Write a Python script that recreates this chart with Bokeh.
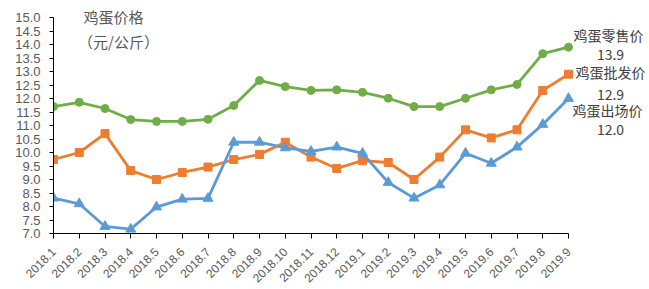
import math
from bokeh.plotting import figure
from bokeh.models import Range1d, FixedTicker, Label
from bokeh.embed import file_html
from bokeh.resources import INLINE

months = ["2018.1", "2018.2", "2018.3", "2018.4", "2018.5", "2018.6", "2018.7",
          "2018.8", "2018.9", "2018.10", "2018.11", "2018.12", "2019.1", "2019.2",
          "2019.3", "2019.4", "2019.5", "2019.6", "2019.7", "2019.8", "2019.9"]
retail = [11.70, 11.86, 11.63, 11.22, 11.15, 11.15, 11.23, 11.74, 12.67, 12.44, 12.30,
          12.32, 12.23, 12.01, 11.70, 11.70, 12.01, 12.32, 12.52, 13.66, 13.90]
wholesale = [9.74, 10.00, 10.70, 9.33, 9.00, 9.26, 9.46, 9.74, 9.93, 10.38, 9.83,
             9.41, 9.70, 9.63, 9.00, 9.83, 10.84, 10.54, 10.84, 12.30, 12.90]
exfactory = [8.31, 8.10, 7.26, 7.16, 7.98, 8.27, 8.30, 10.38, 10.38, 10.17, 10.04,
             10.20, 9.97, 8.89, 8.31, 8.80, 9.97, 9.60, 10.20, 11.04, 12.00]
series_names = ["鸡蛋零售价", "鸡蛋批发价", "鸡蛋出场价"]
y_ticks = [7.0 + 0.5 * i for i in range(17)]
title_lines = ["鸡蛋价格", "（元/公斤）"]

GREEN = "#70AD47"
ORANGE = "#ED7D31"
BLUE = "#5B9BD5"
TXT = "#595959"
CJK = "Noto Sans CJK SC"

x = list(range(len(months)))
n_last = len(months) - 1

# frame extends to the right/top edge; axes limited by bounds
p = figure(width=649, height=289, output_backend="svg", toolbar_location=None,
           x_range=Range1d(0, n_last * 596 / 515), y_range=Range1d(7.0, 7.0 + 8 * 233 / 216),
           min_border_left=53, min_border_right=0, min_border_top=0,
           min_border_bottom=56)
p.outline_line_color = None
p.xgrid.visible = False
p.ygrid.visible = False
p.background_fill_color = "white"
p.border_fill_color = "white"

p.line(x, retail, line_color=GREEN, line_width=2.8)
p.scatter(x, retail, marker="circle", size=8, fill_color=GREEN, line_color=GREEN)
p.line(x, wholesale, line_color=ORANGE, line_width=2.8)
p.scatter(x, wholesale, marker="square", size=8, fill_color=ORANGE, line_color=ORANGE)
p.line(x, exfactory, line_color=BLUE, line_width=2.8)
p.scatter(x, exfactory, marker="triangle", size=10, fill_color=BLUE, line_color=BLUE)

# axes
p.yaxis.bounds = (y_ticks[0], y_ticks[-1])
p.yaxis.ticker = FixedTicker(ticks=y_ticks)
p.yaxis.major_label_overrides = {t: f"{t:.1f}" for t in y_ticks}
p.yaxis.minor_tick_line_color = None
p.yaxis.major_tick_in = 0
p.yaxis.major_tick_out = 4
p.yaxis.axis_line_color = "black"
p.yaxis.major_tick_line_color = "black"
p.yaxis.major_label_text_font = "Liberation Sans"
p.yaxis.major_label_text_font_size = "13px"
p.yaxis.major_label_text_color = TXT
p.yaxis.major_label_standoff = 9

p.xaxis.bounds = (0, n_last)
p.xaxis.ticker = FixedTicker(ticks=x)
p.xaxis.major_label_overrides = {i: m for i, m in enumerate(months)}
p.xaxis.minor_tick_line_color = None
p.xaxis.major_tick_in = 0
p.xaxis.major_tick_out = 5
p.xaxis.axis_line_color = "black"
p.xaxis.major_tick_line_color = "black"
p.xaxis.major_label_orientation = math.pi / 4
p.xaxis.major_label_text_font = "Liberation Sans"
p.xaxis.major_label_text_font_size = "12px"
p.xaxis.major_label_text_color = TXT
p.xaxis.major_label_standoff = 11

# title annotations (screen units relative to the frame bottom)
title_pos = [(113, 233 - 16), (118, 233 - 41)]
for t, (tx, ty) in zip(title_lines, title_pos):
    p.add_layout(Label(x=tx - 53, y=ty, x_units="screen", y_units="screen",
                       text=t, text_font=CJK, text_font_size="15px",
                       text_color=TXT, text_align="center", text_baseline="middle"))

# end labels
vals = [retail, wholesale, exfactory]
name_offsets = [(5, 12), (7, 2), (4, -11)]
value_offsets = [(42, -7), (42, -20), (42, -31)]
for name, v, no, vo in zip(series_names, vals, name_offsets, value_offsets):
    p.add_layout(Label(x=n_last, y=v[-1], x_offset=no[0], y_offset=no[1],
                       text=name, text_font=CJK, text_font_size="14px",
                       text_color="#404040", text_align="left", text_baseline="middle"))
    p.add_layout(Label(x=n_last, y=v[-1], x_offset=vo[0], y_offset=vo[1],
                       text=f"{v[-1]:.1f}", text_font=CJK, text_font_size="14px",
                       text_color="#404040", text_align="center", text_baseline="middle"))

open("out.html", "w").write(file_html(p, INLINE))
